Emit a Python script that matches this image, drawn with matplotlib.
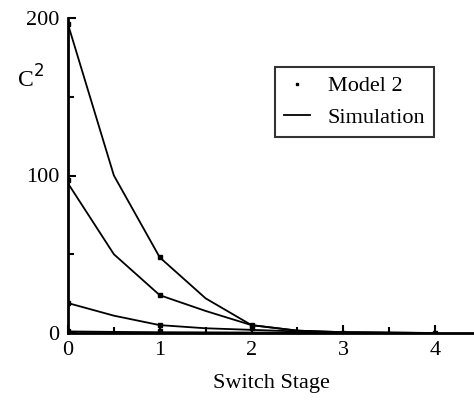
import matplotlib
matplotlib.use("Agg")
import matplotlib.pyplot as plt
from matplotlib.ticker import MultipleLocator

stages = [0, 0.5, 1, 1.5, 2, 2.5, 3, 4]
sim1 = [196, 100, 48, 22, 5, 1.5, 0.5, 0]
sim2 = [95, 50, 24, 14, 5, 1.5, 0.5, 0]
sim3 = [19, 11, 5, 3, 2, 1, 0.3, 0]
sim4 = [1, 0.7, 0.5, 0.4, 0.3, 0.2, 0.1, 0]
model_x = [0, 0, 0, 0, 1, 1, 1, 1, 2, 2, 3, 4]
model_y = [196, 97, 19, 1, 48, 24, 5, 1, 5, 3, 0, 0]

plt.rcParams['font.family'] = ['Liberation Serif', 'DejaVu Serif']
fig = plt.figure(figsize=(4.74, 4.01), dpi=100)
ax = fig.add_axes([68/474, 68/401, (474-68)/474, (333-18)/401])
for s in (sim1, sim2, sim3, sim4):
    ax.plot(stages, s, color='black', lw=1.3, label='_')
ax.lines[0].set_label('Simulation')
ax.plot(model_x, model_y, 's', color='black', ms=3.5, label='Model 2', zorder=3)
ax.set_xlim(0, 406/367*4)
ax.set_ylim(0, 200)
ax.set_xticks([0, 1, 2, 3, 4])
ax.set_yticks([0, 100, 200])
ax.xaxis.set_minor_locator(MultipleLocator(0.5))
ax.yaxis.set_minor_locator(MultipleLocator(50))
for s in ('top', 'right'):
    ax.spines[s].set_visible(False)
for s in ('left', 'bottom'):
    ax.spines[s].set_linewidth(2)
ax.tick_params(which='both', direction='in', width=1.5, labelsize=16)
ax.tick_params(which='major', length=6, pad=6)
ax.tick_params(which='minor', length=4)
ax.set_xlabel('Switch Stage', fontsize=16, labelpad=10)
ax.text(-0.06, 0.78, 'C$^2$', transform=ax.transAxes, fontsize=17, ha='right')
h, l = ax.get_legend_handles_labels()
leg = ax.legend([h[1], h[0]], [l[1], l[0]], loc='upper right', bbox_to_anchor=(0.93, 0.88),
                fontsize=16, frameon=True, fancybox=False, edgecolor='black',
                handlelength=1.2, markerscale=0.5)
leg.get_frame().set_linewidth(1.5)
fig.savefig('out.png', dpi=100)
